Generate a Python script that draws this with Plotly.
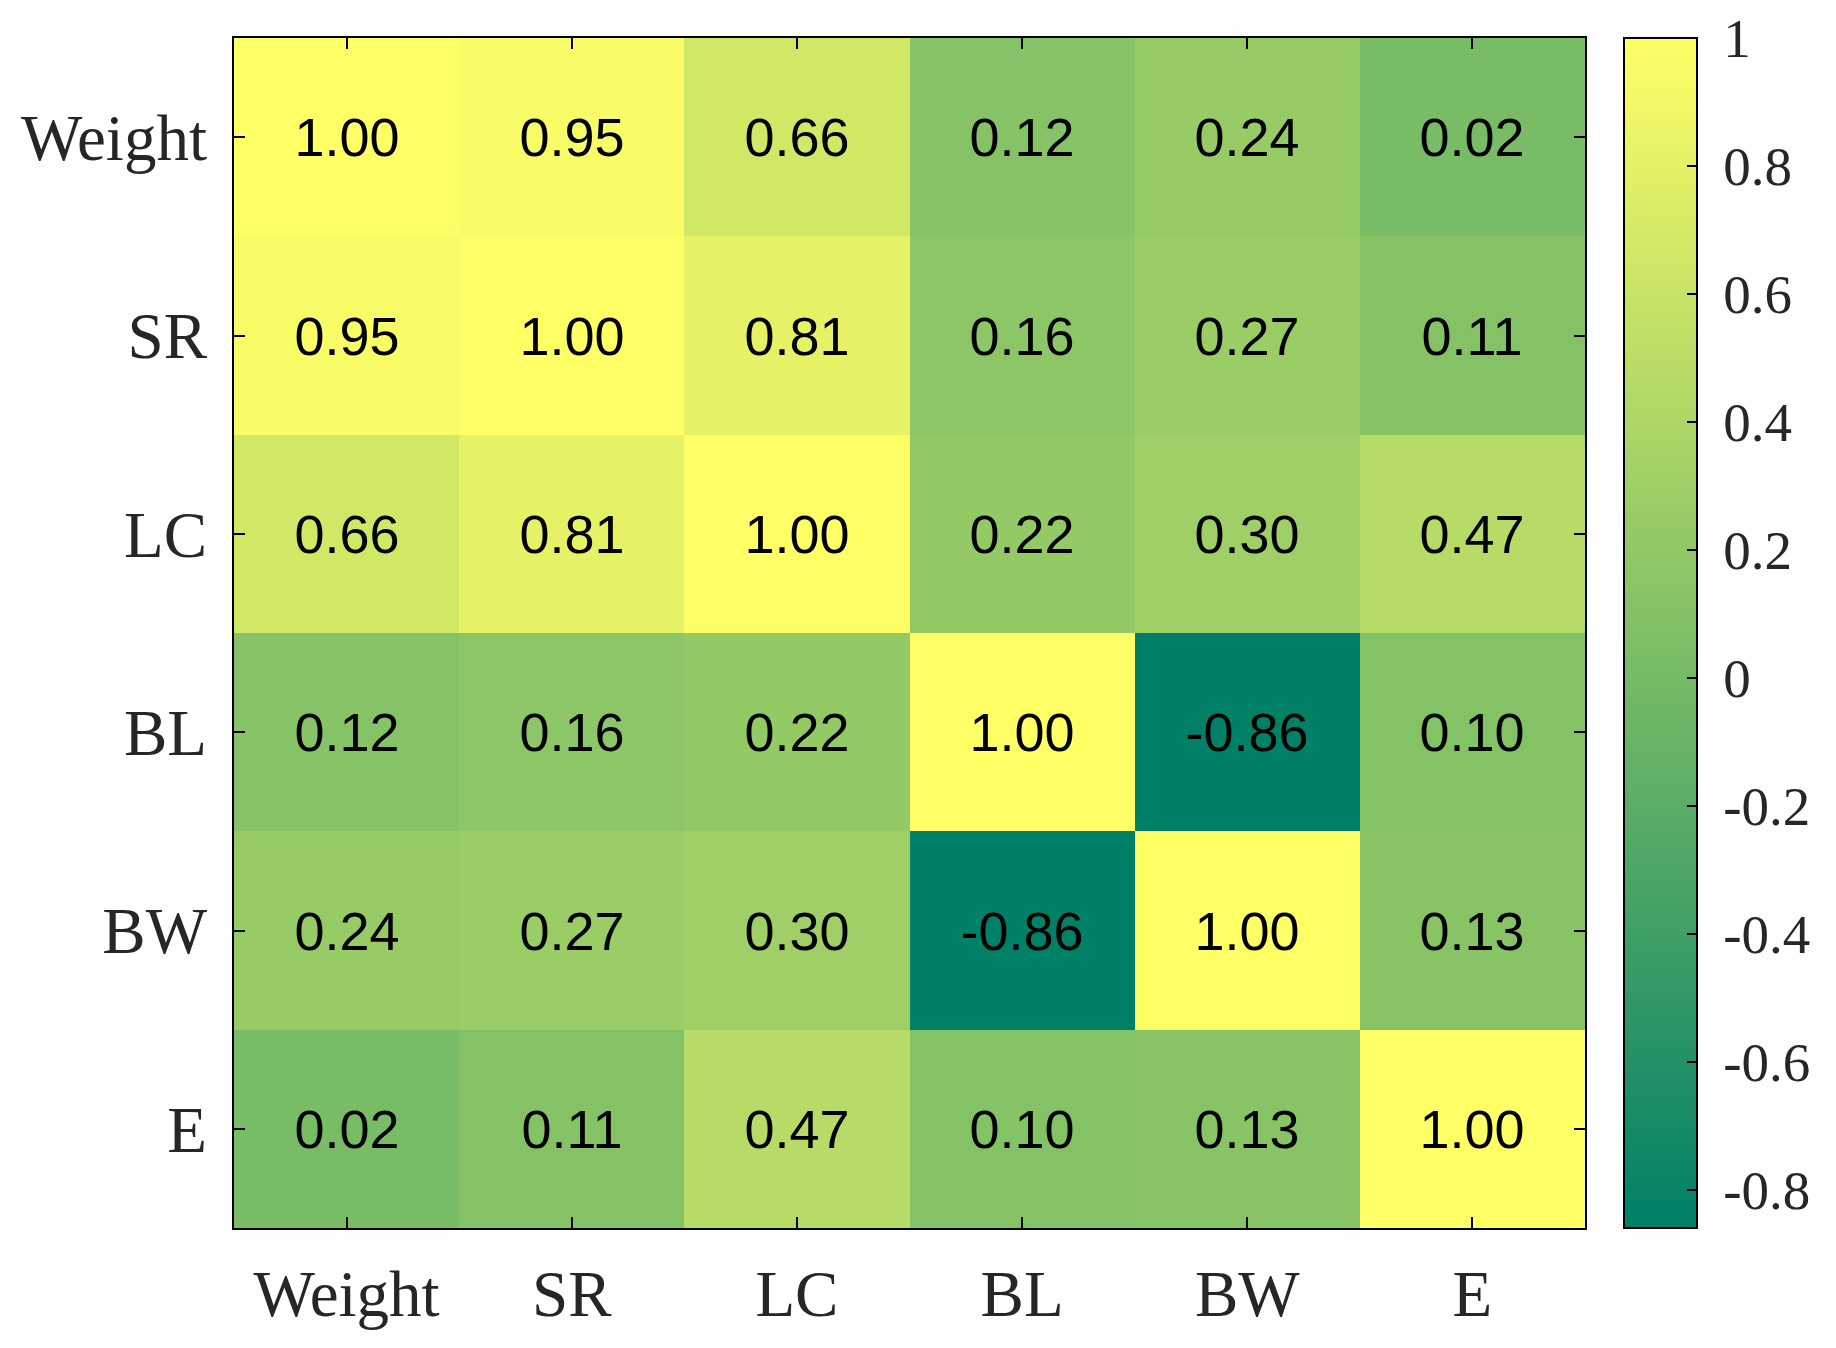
import plotly.graph_objects as go

variaveis = ["Weight", "SR", "LC", "BL", "BW", "E"]

correlacao = [
    [1.00, 0.95, 0.66, 0.12, 0.24, 0.02],
    [0.95, 1.00, 0.81, 0.16, 0.27, 0.11],
    [0.66, 0.81, 1.00, 0.22, 0.30, 0.47],
    [0.12, 0.16, 0.22, 1.00, -0.86, 0.10],
    [0.24, 0.27, 0.30, -0.86, 1.00, 0.13],
    [0.02, 0.11, 0.47, 0.10, 0.13, 1.00],
]

cbar_vals = [1, 0.8, 0.6, 0.4, 0.2, 0, -0.2, -0.4, -0.6, -0.8]
cbar_text = ["1", "0.8", "0.6", "0.4", "0.2", "0", "-0.2", "-0.4", "-0.6", "-0.8"]

# mapa "summer" do MATLAB
summer = [[0, "rgb(0,128,102)"], [1, "rgb(255,255,102)"]]

serif = "Liberation Serif, Times New Roman, serif"
sans = "Liberation Sans, Arial, sans-serif"

# a pagina tem margem de 8px no body, por isso a figura fica 8px menor
W, H = 1828, 1340

fig = go.Figure()
fig.add_trace(go.Heatmap(
    z=correlacao,
    x=variaveis,
    y=variaveis,
    colorscale=summer,
    zmin=-0.86,
    zmax=1.0,
    texttemplate="%{z:.2f}",
    textfont=dict(family=sans, size=54, color="black"),
    colorbar=dict(
        xref="container",
        x=1616 / W,
        xanchor="left",
        thicknessmode="pixels",
        thickness=73,
        lenmode="fraction",
        len=1,
        y=0.5,
        yanchor="middle",
        ypad=0,
        xpad=0,
        outlinecolor="black",
        outlinewidth=2,
        ticks="inside",
        ticklen=11,
        tickcolor="black",
        tickwidth=2,
        tickvals=cbar_vals,
        ticktext=["&nbsp;" + t for t in cbar_text],
        tickfont=dict(family=serif, size=55, color="#262626"),
    ),
))

eixo = dict(
    showline=True,
    linecolor="black",
    linewidth=2,
    mirror="ticks",
    ticks="inside",
    ticklen=11,
    tickwidth=2,
    tickcolor="black",
    tickfont=dict(family=serif, size=65, color="#262626"),
    showgrid=False,
    zeroline=False,
)

fig.update_layout(
    width=W,
    height=H,
    paper_bgcolor="white",
    plot_bgcolor="white",
    margin=dict(l=226, r=W - 1577, t=30, b=120),
    xaxis=dict(eixo, ticklabelstandoff=8),
    yaxis=dict(eixo, autorange="reversed", ticklabelstandoff=12),
)

fig.write_html("out.html")
